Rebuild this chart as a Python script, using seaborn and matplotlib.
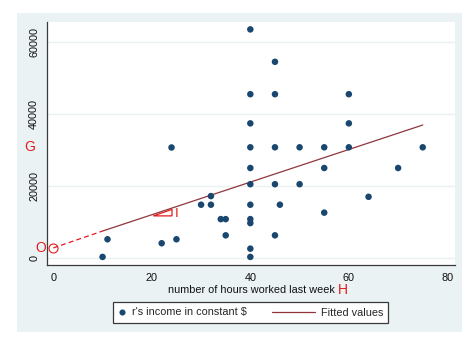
import numpy as np
import pandas as pd
import matplotlib
matplotlib.use("Agg")
import matplotlib.pyplot as plt
import seaborn as sns
from matplotlib.patches import Rectangle, Polygon
from matplotlib.lines import Line2D
from matplotlib.legend_handler import HandlerLine2D

# ---------------- data ----------------
hours = [10, 11, 22, 24, 25, 30, 32, 32, 34, 35, 35,
         40, 40, 40, 40, 40, 40, 40, 40, 40, 40, 40,
         45, 45, 45, 45, 45, 46, 50, 50, 55, 55, 55, 60, 60, 60, 64, 70, 75]
income = [300, 5200, 4100, 30700, 5200, 14800, 14800, 17200, 10800, 10800, 6300,
          300, 2600, 9700, 10800, 14800, 20500, 25000, 30750, 37400, 45500, 63500,
          6300, 20500, 30750, 45500, 54500, 14800, 20500, 30750, 12600, 25000, 30750,
          30750, 37400, 45500, 17000, 25000, 30750]
fit_hours = [10, 75]
fit_income = [7490, 36940]
ext_hours = [0, 10]
ext_income = [2800, 7490]
tri_hours = [20.3, 24.1, 24.1]
tri_income = [11700, 11700, 13500]
x_ticks = [0, 20, 40, 60, 80]
y_ticks = [0, 20000, 40000, 60000]
x_label = "number of hours worked last week"
legend_labels = ["r's income in constant $", "Fitted values"]

# ---------------- style ----------------
sns.set_style("white")
plt.rcParams["font.family"] = ["Liberation Sans", "DejaVu Sans"]

NAVY = "#1A476F"
MAROON = "#90353B"
RED = "#E41A1C"
BG = "#EAF2F3"
AX = "#3a3a3a"
FS = 7.8

W, H = 474, 342
fig = plt.figure(figsize=(W / 100, H / 100), dpi=100, facecolor="white")
fig.patches.append(Rectangle((17 / W, 1 - 332 / H), (462 - 17) / W, (332 - 13) / H,
                             transform=fig.transFigure, facecolor=BG,
                             edgecolor="none", zorder=-5))
ax = fig.add_axes([47 / W, 1 - 265 / H, (455 - 47) / W, (265 - 22) / H])
ax.set_zorder(2)
ax.set_facecolor("white")

df = pd.DataFrame({"hours": hours, "income": income})
fit = pd.DataFrame({"hours": fit_hours, "income": fit_income})

sns.lineplot(data=fit, x="hours", y="income", color=MAROON, lw=0.9, ax=ax, zorder=2)
sns.scatterplot(data=df, x="hours", y="income", color=NAVY, s=22,
                edgecolor="none", ax=ax, zorder=3)

# red annotations
ax.plot(ext_hours, ext_income, color=RED, lw=0.9, ls=(0, (4, 2.5)), zorder=4, clip_on=False)
ax.plot([ext_hours[0]], [ext_income[0]], marker="o", ms=6.5, mfc="none", mec=RED,
        mew=0.8, ls="none", clip_on=False, zorder=5)
ax.add_patch(Polygon(list(zip(tri_hours, tri_income)), closed=True, fill=False,
                     edgecolor=RED, lw=0.9, zorder=4))
ax.text(25.1, 12100, "I", color=RED, fontsize=9.5, ha="center", va="center")
ax.text(-2.6, 2800, "O", color=RED, fontsize=10, ha="center", va="center", clip_on=False)
ax.text(-4.75, 30900, "G", color=RED, fontsize=10, ha="center", va="center", clip_on=False)
fig.text(342.5 / W, 1 - 290 / H, "H", color=RED, fontsize=10, ha="center", va="center")

# axes
ax.set_xlim(-1.28, 81.55)
ax.set_ylim(-1944, 65556)
ax.set_xticks(x_ticks)
ax.set_yticks(y_ticks)
ax.set_xticklabels([str(t) for t in x_ticks])
ax.set_yticklabels([str(t) for t in y_ticks])
ax.yaxis.grid(True, color=BG, lw=1.0)
ax.xaxis.grid(False)
ax.set_axisbelow(True)
for s in ["top", "right"]:
    ax.spines[s].set_visible(False)
for s in ["left", "bottom"]:
    ax.spines[s].set_color(AX)
    ax.spines[s].set_linewidth(0.9)
ax.tick_params(axis="both", direction="out", length=3.1, width=0.8, color=AX,
               labelsize=FS, labelcolor="#111111", pad=2.5)
ax.tick_params(axis="y", labelrotation=90)
for lab in ax.get_yticklabels():
    lab.set_va("center")
ax.set_ylabel("")
ax.set_xlabel(x_label, fontsize=FS, color="#111111")
ax.xaxis.set_label_coords(0.5, (265 - 290) / (265 - 22))
ax.xaxis.label.set_va("center")


class LeftExtendedLine(HandlerLine2D):
    def __init__(self, extra, **kw):
        super().__init__(**kw)
        self.extra = extra

    def get_xdata(self, legend, xdescent, ydescent, width, height, fontsize):
        xdata, xm = super().get_xdata(legend, xdescent, ydescent, width, height, fontsize)
        return [-xdescent - self.extra * fontsize, -xdescent + width], xm


h1 = Line2D([], [], marker="o", ls="none", color=NAVY, ms=4.4, mec="none")
h2 = Line2D([], [], color=MAROON, lw=0.9)
leg = fig.legend([h1, h2], legend_labels, loc="center",
                 bbox_to_anchor=(250.5 / W, 1 - 312.5 / H), bbox_transform=fig.transFigure,
                 ncol=2, fontsize=FS, frameon=True, fancybox=False, edgecolor=AX,
                 facecolor="white", framealpha=1, handlelength=0.8, handletextpad=0.5,
                 columnspacing=5.5, borderpad=0.5,
                 handler_map={h2: LeftExtendedLine(3.17)})
leg.get_frame().set_linewidth(0.9)

fig.savefig("out.png", dpi=100, facecolor="white")
